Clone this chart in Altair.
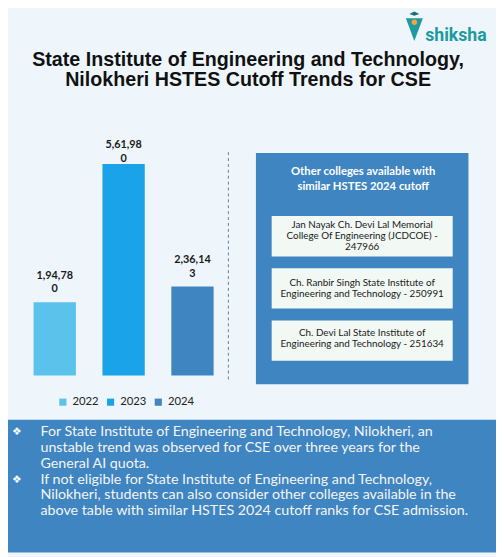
import altair as alt
import pandas as pd

# ---------------- data ----------------
years = ["2022", "2023", "2024"]
cutoffs = [194780, 561980, 236143]
bar_colors = ["#5BC2EC", "#1BA3E9", "#3F85C1"]

title_lines = [
    "State Institute of Engineering and Technology,",
    "Nilokheri HSTES Cutoff Trends for CSE",
]
panel_title = ["Other colleges available with", "similar HSTES 2024 cutoff"]
colleges = [
    ["Jan Nayak Ch. Devi Lal Memorial", "College Of Engineering (JCDCOE) -", "247966"],
    ["Ch. Ranbir Singh State Institute of", "Engineering and Technology - 250991"],
    ["Ch. Devi Lal State Institute of", "Engineering and Technology - 251634"],
]
notes = [
    [
        "For State Institute of Engineering and Technology, Nilokheri, an",
        "unstable trend was observed for CSE over three years for the",
        "General AI quota.",
    ],
    [
        "If not eligible for State Institute of Engineering and Technology,",
        "Nilokheri, students can also consider other colleges available in the",
        "above table with similar HSTES 2024 cutoff ranks for CSE admission.",
    ],
]
logo_text = "shiksha"


def indian(n):
    s = str(n)
    last3, rest = s[-3:], s[:-3]
    groups = []
    while len(rest) > 2:
        groups.insert(0, rest[-2:])
        rest = rest[:-2]
    if rest:
        groups.insert(0, rest)
    return ",".join(groups + [last3])


labels = [indian(v) for v in cutoffs]
df = pd.DataFrame({
    "year": years,
    "cutoff": cutoffs,
    "l1": [s[:-1] for s in labels],
    "l2": [s[-1:] for s in labels],
})
one = pd.DataFrame({"k": [0]})

BG = "#EEF6FB"
PANEL = "#3F85C1"
BOX = "#F2F8F4"

# ---------------- helpers ----------------
def rect(x1, x2, y1, y2, color):
    return alt.Chart(one).mark_rect(color=color).encode(
        x=alt.value(x1), x2=alt.value(x2), y=alt.value(y1), y2=alt.value(y2)
    )


def text_block(lines, x, y0, lh, size, color, weight="normal", font="Lato",
               align="center", baseline="middle"):
    out = []
    for i, t in enumerate(lines):
        out.append(
            alt.Chart(one).mark_text(
                font=font, fontSize=size, fontWeight=weight, color=color,
                align=align, baseline=baseline
            ).encode(x=alt.value(x), y=alt.value(y0 + i * lh), text=alt.value(t))
        )
    return out


# ---------------- bars ----------------
xscale = alt.Scale(domain=years, range=[12.5, 222.5],
                   paddingInner=27 / 70, paddingOuter=27 / 140)
yscale = alt.Scale(domain=[0, 575000], range=[369, 149], clamp=True)

base = alt.Chart(df)
bars = base.mark_bar().encode(
    x=alt.X("year:N", scale=xscale, axis=None),
    y=alt.Y("cutoff:Q", scale=yscale, axis=None),
    color=alt.Color(
        "year:N",
        scale=alt.Scale(domain=years, range=bar_colors),
        legend=alt.Legend(
            orient="none", legendX=50, legendY=390, direction="horizontal",
            title=None, symbolType="square", symbolSize=53,
            symbolStrokeWidth=0, labelFont="Lato", labelFontSize=11.5,
            labelColor="#222222", columnPadding=5.5, labelOffset=4,
        ),
    ),
)
lab_base = base.transform_calculate(ly="datum.cutoff + 34000")
lab2 = lab_base.mark_text(font="Lato", fontSize=11, fontWeight="bold",
                          color="#1a1a1a", baseline="middle").encode(
    x=alt.X("year:N", scale=xscale, axis=None),
    y=alt.Y("ly:Q", scale=yscale, axis=None),
    text="l2:N",
)
lab1 = lab_base.mark_text(font="Lato", fontSize=11, fontWeight="bold",
                          color="#1a1a1a", baseline="middle", dy=-14).encode(
    x=alt.X("year:N", scale=xscale, axis=None),
    y=alt.Y("ly:Q", scale=yscale, axis=None),
    text="l1:N",
)

# ---------------- decorations ----------------
layers = []
layers.append(rect(0, 496, 414, 549, PANEL))          # bottom notes panel
layers.append(rect(252, 468, 143, 378, PANEL))        # right panel
for y1 in [207, 260, 313]:
    layers.append(rect(268, 452, y1, y1 + 41, BOX))
layers.append(
    alt.Chart(one).mark_rule(color="#5C7FA6", strokeDash=[3, 3], strokeWidth=1)
    .encode(x=alt.value(224), y=alt.value(142), y2=alt.value(375))
)
layers += [bars, lab1, lab2]

# title
layers += text_block(title_lines, 244, 54, 21, 20, "#111111", weight="bold",
                     font="Liberation Sans", baseline="alphabetic")
# panel title
layers += text_block(panel_title, 361, 162.5, 14.5, 11.5, "#FFFFFF", weight="bold")
# college boxes
layers += text_block(colleges[0], 360, 216, 11, 10, "#1a1a1a")
layers += text_block(colleges[1], 360, 275, 11, 10, "#1a1a1a")
layers += text_block(colleges[2], 360, 326, 11, 10, "#1a1a1a")
# notes
layers += text_block(notes[0], 33, 427, 16, 14.5, "#F4F4F4", align="left")
layers += text_block(notes[1], 33, 475, 16, 14.5, "#F4F4F4", align="left")
for yb in [427, 475]:
    layers += text_block(["\u2756"], 9, yb, 0, 11, "#FFFFFF", font="DejaVu Sans")

# logo
layers.append(
    alt.Chart(one).mark_point(shape="M-1,0.1L0,-0.4L1,0.1L0,0.5Z", size=100,
                              filled=True, color="#17707A", opacity=1)
    .encode(x=alt.value(413), y=alt.value(1))
)
layers.append(
    alt.Chart(one).mark_point(shape="M-0.75,-1L0.75,-1L0,1Z", size=530,
                              filled=True, color="#1E9AA0", opacity=1)
    .encode(x=alt.value(413), y=alt.value(17.5))
)
layers.append(
    alt.Chart(one).mark_point(shape="circle", size=30, filled=True,
                              color="#F4A63A", opacity=1)
    .encode(x=alt.value(413), y=alt.value(10))
)
layers += text_block([logo_text], 424, 29, 0, 18, "#1E9AA0", weight="bold",
                     font="Roboto", align="left", baseline="alphabetic")

chart = (
    alt.layer(*layers)
    .properties(width=496, height=549, background=BG, padding=0,
                autosize=alt.AutoSizeParams(type="none"))
    .configure_view(stroke=None)
)

chart.save("out.html", embed_options={"renderer": "svg", "actions": False})
